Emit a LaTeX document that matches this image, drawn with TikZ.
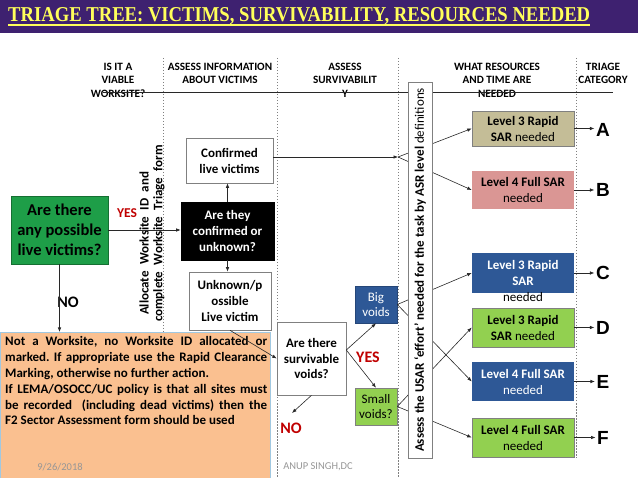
\documentclass[tikz,border=0pt]{standalone}
\usepackage{fontspec}
\setmainfont{Carlito}
\newfontfamily\titlefont{Liberation Serif}
\newfontfamily\arialfont{Liberation Sans}
\usetikzlibrary{arrows.meta}
\definecolor{titlebg}{RGB}{62,33,112}
\definecolor{titleyel}{RGB}{255,255,90}
\definecolor{boxgray}{RGB}{128,128,128}
\definecolor{linegray}{RGB}{40,40,40}
\definecolor{greenq}{RGB}{30,158,72}
\definecolor{tanA}{RGB}{196,189,151}
\definecolor{pinkB}{RGB}{218,150,148}
\definecolor{blueC}{RGB}{46,88,150}
\definecolor{lgreen}{RGB}{146,208,80}
\definecolor{orangebg}{RGB}{250,192,144}
\definecolor{lblred}{RGB}{192,0,0}
\definecolor{footgray}{RGB}{150,150,150}
\definecolor{edgeblue}{RGB}{160,200,225}
\tikzset{
 wbox/.style={draw=boxgray, fill=white, line width=0.6pt, inner sep=0pt, align=center, font=\bfseries\fontsize{13}{16}\selectfont},
 rbox/.style={line width=0.6pt, inner sep=0pt, minimum width=102pt, align=center, font=\fontsize{13}{16}\selectfont},
 arr/.style={-{Latex[length=4.5pt,width=3.5pt]}, line width=0.6pt, draw=linegray},
 hdr/.style={align=center, font=\bfseries\fontsize{11.2}{13.5}\selectfont, inner sep=0pt},
 divider/.style={draw=gray, line width=0.5pt, dash pattern=on 1.5pt off 1.5pt},
 letter/.style={font=\arialfont\bfseries\fontsize{19}{19}\selectfont, inner sep=1.5pt},
 redlbl/.style={text=lblred, font=\bfseries\fontsize{16}{16}\selectfont, inner sep=0pt},
 foot/.style={text=footgray, font=\fontsize{10.5}{12}\selectfont, inner sep=0pt},
 vtext/.style={rotate=90, font=\bfseries\fontsize{13}{15}\selectfont, inner sep=0pt},
}
\begin{document}
\begin{tikzpicture}[x=1pt,y=-1pt]
\useasboundingbox (0,0) rectangle (638,478);
% title bar
\fill[titlebg] (0,0) rectangle (638,33);
\node[anchor=base west, inner sep=0pt, text=titleyel] (title) at (8,22)
  {\resizebox{582pt}{14pt}{\titlefont\bfseries TRIAGE TREE: VICTIMS, SURVIVABILITY, RESOURCES NEEDED}};
\draw[titleyel, line width=1.3pt] (8,25) coordinate (ul1) -- (590,25) coordinate (ul2);
% column dividers
\draw[divider] (163,58) coordinate (d1a) -- (163,478) coordinate (d1b);
\draw[divider] (277,58) coordinate (d2a) -- (277,478) coordinate (d2b);
\draw[divider] (398,58) coordinate (d3a) -- (398,478) coordinate (d3b);
\draw[divider] (576,58) coordinate (d4a) -- (576,458) coordinate (d4b);
% headers
\node[hdr] (h1) at (118,80) {IS IT A\\VIABLE\\WORKSITE?};
\node[hdr] (h2) at (220,73.5) {ASSESS INFORMATION\\ABOUT VICTIMS};
\node[hdr] (h3) at (345,80) {ASSESS\\SURVIVABILIT\\Y};
\node[hdr] (h4) at (497,80) {WHAT RESOURCES\\AND TIME ARE\\NEEDED};
\node[hdr] (h5) at (603,73.5) {TRIAGE\\CATEGORY};
\draw[linegray, line width=0.8pt] (103,92) coordinate (hl1) -- (613,92) coordinate (hl2);
% boxes
\node[wbox, draw=greenq!70!black, fill=greenq, minimum width=97pt, minimum height=68pt,
      font=\bfseries\fontsize{16.5}{20}\selectfont] (green) at (59.5,230) {Are there\\any possible\\live victims?};
\node[wbox, draw=black, fill=black, text=white, minimum width=93pt, minimum height=58pt] (black) at (227.5,231) {Are they\\confirmed or\\unknown?};
\node[wbox, minimum width=87pt, minimum height=45pt] (confirmed) at (229.5,160.5) {Confirmed\\live victims};
\node[wbox, minimum width=82pt, minimum height=58pt] (unknown) at (230,301) {Unknown/p\\ossible\\Live victim};
\node[wbox, minimum width=69pt, minimum height=73pt, font=\bfseries\fontsize{13}{15.5}\selectfont] (arethere) at (311.5,358.5) {Are there\\survivable\\voids?};
\node[wbox, draw=blueC!80!black, fill=blueC, text=white, font=\fontsize{13}{15}\selectfont, minimum width=42pt, minimum height=37pt] (big) at (376,304.5) {Big\\voids};
\node[wbox, fill=lgreen, font=\fontsize{13}{15}\selectfont, minimum width=42pt, minimum height=37pt] (small) at (376,406.5) {Small\\voids?};
% result boxes
\node[rbox, draw=boxgray, fill=tanA, minimum height=35pt] (A) at (523,128.5) {\textbf{Level 3 Rapid}\\\textbf{SAR} needed};
\node[rbox, fill=pinkB, minimum height=38pt] (B) at (523,190) {\textbf{Level 4 Full SAR}\\needed};
\node[rbox, fill=blueC, text=white, minimum height=40pt] (C) at (523,273) {\textbf{Level 3 Rapid}\\\textbf{SAR}};
\node[inner sep=0pt, font=\fontsize{13}{16}\selectfont] (Cneed) at (523,297) {needed};
\node[rbox, draw=boxgray, fill=lgreen, minimum height=39pt] (D) at (523,327.5) {\textbf{Level 3 Rapid}\\\textbf{SAR} needed};
\node[rbox, fill=blueC, text=white, minimum height=39pt] (E) at (523,381.5) {\textbf{Level 4 Full SAR}\\needed};
\node[rbox, draw=boxgray, fill=lgreen, minimum height=39pt] (F) at (523,437.5) {\textbf{Level 4 Full SAR}\\needed};
% category letters
\node[letter] (lA) at (603,130) {A};
\node[letter] (lB) at (603,190) {B};
\node[letter] (lC) at (603,273) {C};
\node[letter] (lD) at (603,328) {D};
\node[letter] (lE) at (603,381.5) {E};
\node[letter] (lF) at (603,437.5) {F};
\foreach \b/\l in {A/lA,B/lB,C/lC,D/lD,E/lE,F/lF}
  \draw[arr] (\b.east) -- (\b.east -| \l.west);
% vertical texts
\node[vtext] (vt1) at (144,243.5) {\makebox[143pt][s]{Allocate Worksite ID and}};
\node[vtext] (vt2) at (159,233.5) {\makebox[177pt][s]{complete Worksite Triage form}};
% labels
\node[text=lblred, font=\bfseries\fontsize{13.5}{14}\selectfont, inner sep=0pt] (yes1) at (127,213) {YES};
\node[font=\bfseries\fontsize{16}{16}\selectfont, inner sep=0pt] (no1) at (68,302) {NO};
\node[redlbl] (yes2) at (368,357) {YES};
\node[redlbl] (no2) at (291,428) {NO};
% connectors
\draw[arr] (green.east) -- (green.east -| black.west);
\draw[arr] (black.north) -- (black.north |- confirmed.south);
\draw[arr] (black.south) -- (black.south |- unknown.north);
\coordinate (capex) at (398,157);
\draw[arr] (confirmed.east |- capex) -- (capex);
\draw[arr] (capex) -- (A.west);
\draw[arr] (capex) -- (B.west);
\draw[arr] (big.east) -- (C.west);
\draw[arr] (big.east) -- (E.west);
\draw[arr] (small.east) -- (D.west);
\draw[arr] (small.east) -- (F.west);
\coordinate (afork) at (arethere.east |- 0,350);
\draw[arr] (afork) -- (big.south);
\draw[arr] (afork) -- (small.north);
\coordinate (noend) at (292,413);
\draw[arr] (arethere.south) -- (noend);
% USAR box (on top of the lines that pass under it)
\node[draw=boxgray, fill=white, line width=0.6pt, rotate=90, minimum width=376pt, minimum height=24pt, inner sep=0pt,
      font=\fontsize{13}{15}\selectfont] (usar) at (420,270)
  {\textbf{Assess the USAR ‘effort’ needed for the task by ASR level} definitions};
% orange note box
\node[draw=edgeblue, fill=orangebg, line width=0.6pt, anchor=north west, minimum width=270pt, minimum height=147pt, inner sep=0pt] (orange) at (0,332) {};
\node[anchor=north west, text width=262pt, align=justify, inner sep=0pt,
      font=\bfseries\fontsize{13}{15.8}\selectfont] (note) at (5,336.5)
  {\frenchspacing\hyphenpenalty=10000\exhyphenpenalty=10000\emergencystretch=20pt
   Not a Worksite, no Worksite ID allocated or marked. If appropriate use the Rapid Clearance Marking, otherwise no further action.\par
   If LEMA/OSOCC/UC policy is that all sites must be recorded\ \ (including dead victims) then the\linebreak F2 Sector Assessment form should be used\par};
\draw[arr] (green.south) -- (green.south |- orange.north);
\draw[arr] (unknown.south) -- (arethere.west);
% footer
\node[foot] (date) at (60,467) {9/26/2018};
\node[foot] (author) at (318,467) {ANUP SINGH,DC};
\end{tikzpicture}
\end{document}
